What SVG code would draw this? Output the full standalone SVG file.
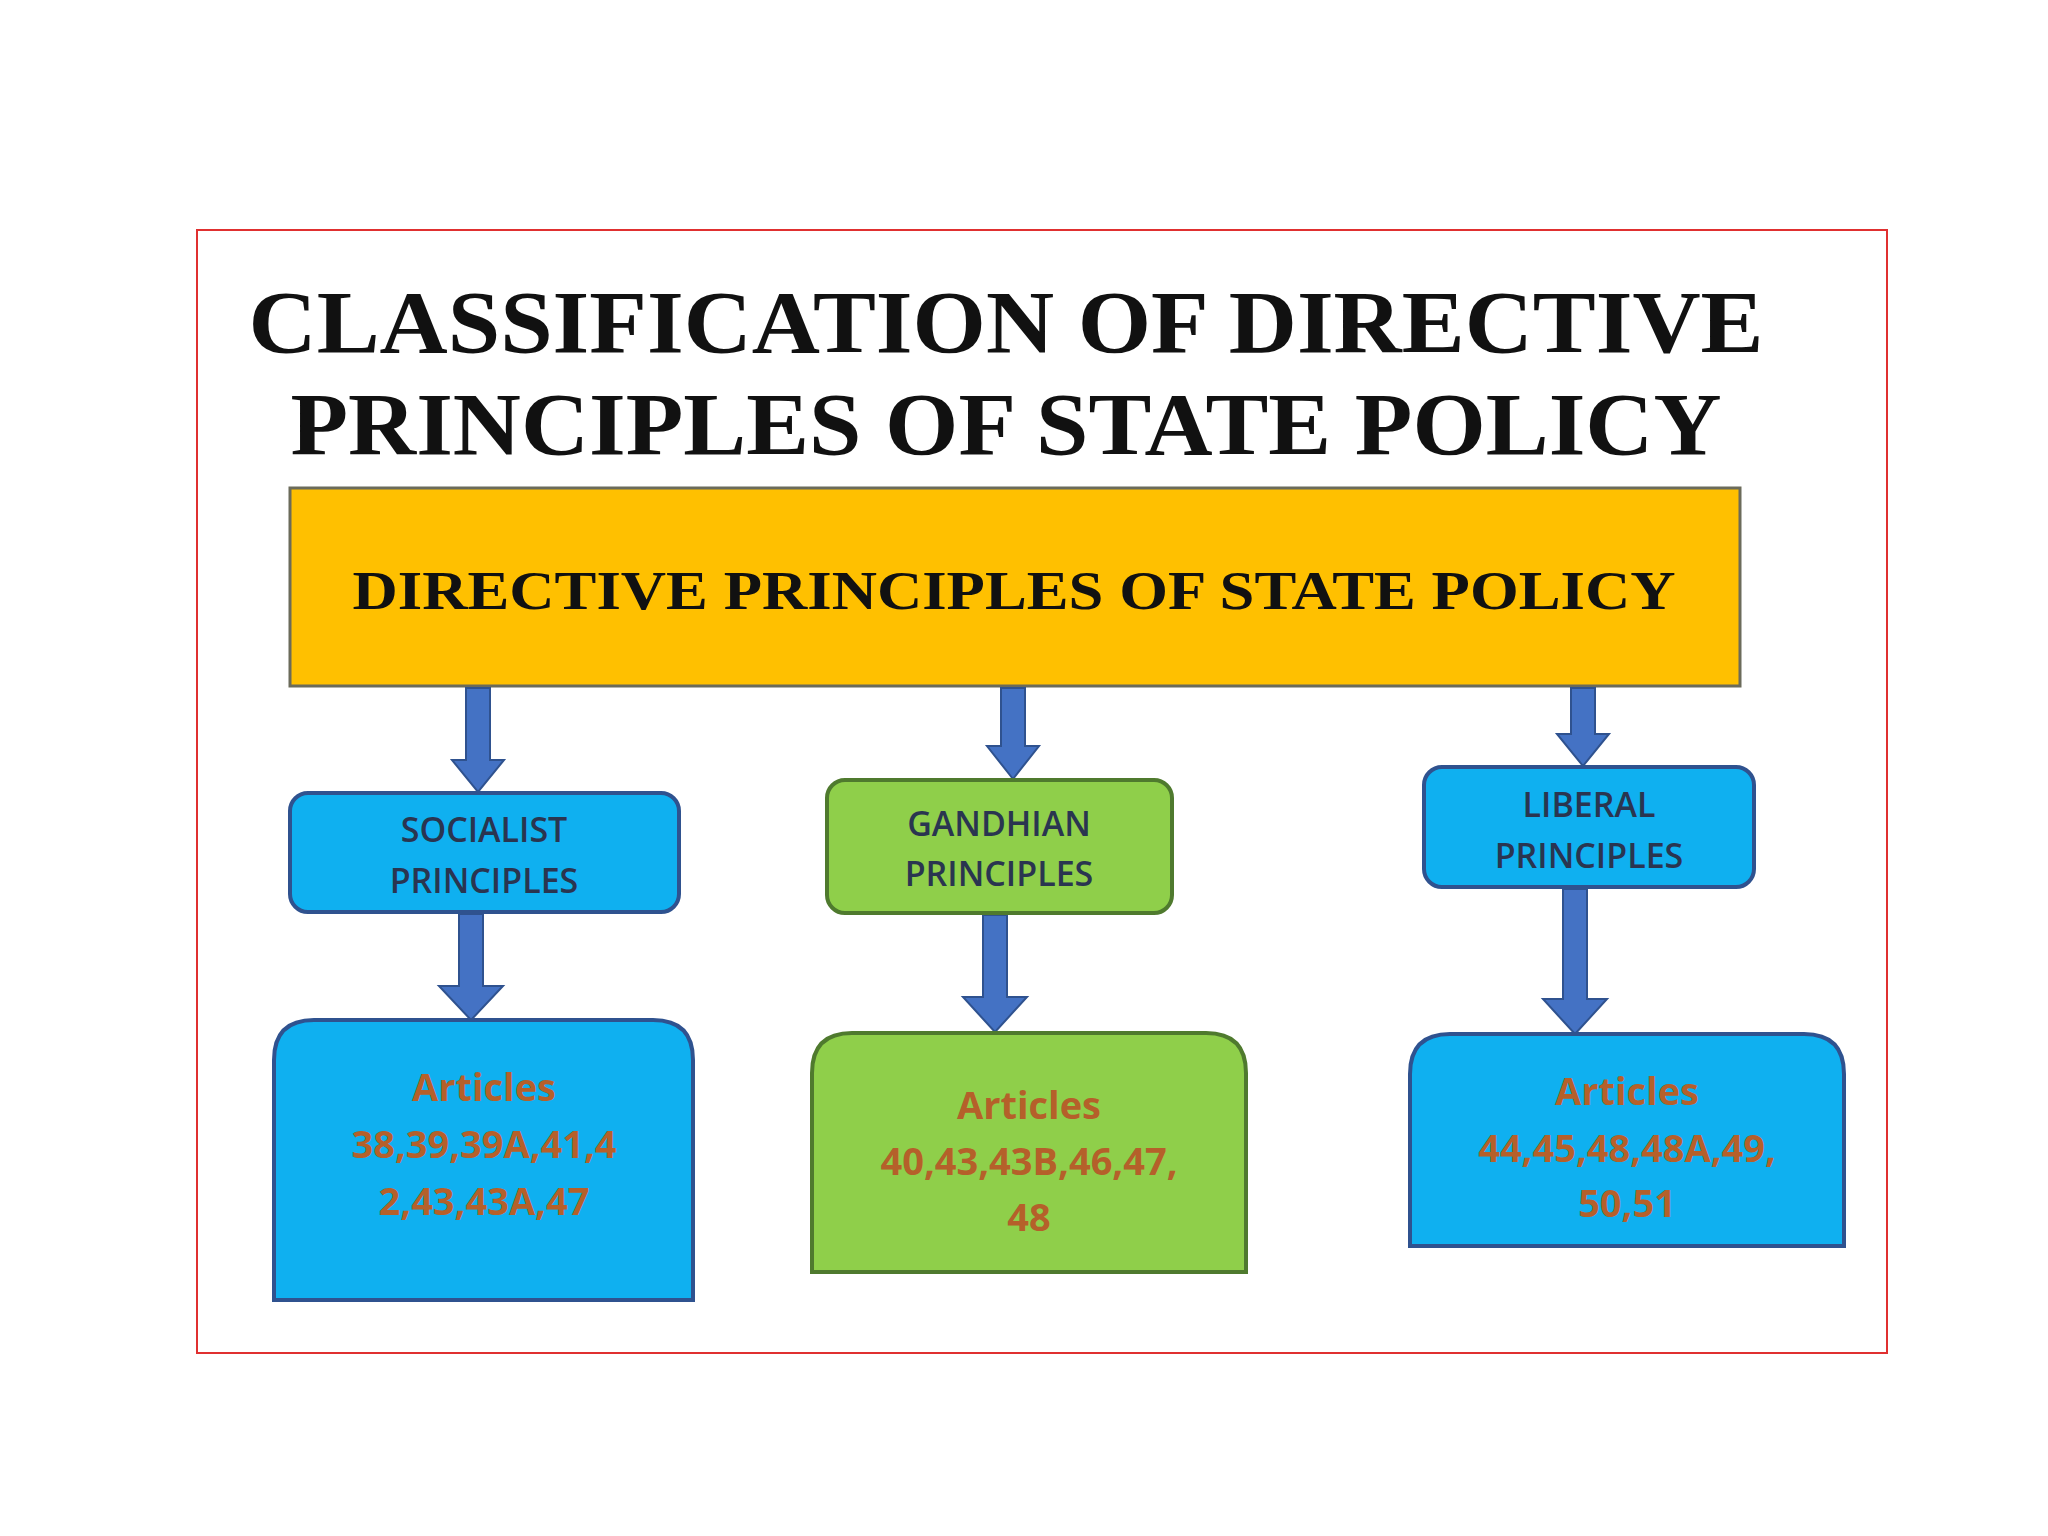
<svg xmlns="http://www.w3.org/2000/svg" width="2048" height="1536" viewBox="0 0 2048 1536">
<style>
.t{font-family:"Liberation Serif",serif;font-weight:bold;fill:#111;text-anchor:middle}
.lb{font-family:"Open Sans","Liberation Sans",sans-serif;font-weight:600;font-size:34px;fill:#2a3550;text-anchor:middle}
.ar{font-family:"Open Sans","Liberation Sans",sans-serif;font-weight:bold;font-size:38px;fill:#b5602a;text-anchor:middle}
.blue{fill:#0fb0f0;stroke:#2f528f;stroke-width:4}
.green{fill:#8fcf4a;stroke:#4f7a2e;stroke-width:4}
.arr{fill:#4472c4;stroke:#2f528f;stroke-width:2}
</style>
<rect width="2048" height="1536" fill="#fff"/>
<rect x="197" y="230" width="1690" height="1123" fill="#fff" stroke="#e03030" stroke-width="2"/>
<text class="t" x="1006" y="352" font-size="88" textLength="1515" lengthAdjust="spacingAndGlyphs">CLASSIFICATION OF DIRECTIVE</text>
<text class="t" x="1006" y="454" font-size="88" textLength="1431" lengthAdjust="spacingAndGlyphs">PRINCIPLES OF STATE POLICY</text>
<g id="root"><rect x="290" y="488" width="1450" height="198" fill="#ffc000" stroke="#6b6b5a" stroke-width="3"/>
<text class="t" x="1014" y="609" font-size="54" textLength="1323" lengthAdjust="spacingAndGlyphs">DIRECTIVE PRINCIPLES OF STATE POLICY</text></g>
<g id="connectors">
<path class="arr" d="M466 688h24v72h14l-26 32l-26-32h14z"/>
<path class="arr" d="M1001 688h24v58h14l-26 33l-26-33h14z"/>
<path class="arr" d="M1571 688h24v46h14l-26 32l-26-32h14z"/>
<path class="arr" d="M459 914h24v72h20l-32 34l-32-34h20z"/>
<path class="arr" d="M983 915h24v82h20l-32 35l-32-35h20z"/>
<path class="arr" d="M1563 889h24v110h20l-32 35l-32-35h20z"/>
</g>
<g id="socialist"><rect class="blue" x="290" y="793" width="389" height="119" rx="18"/>
<text class="lb" x="484" y="842">SOCIALIST</text><text class="lb" x="484" y="893">PRINCIPLES</text></g>
<g id="gandhian"><rect class="green" x="827" y="780" width="345" height="133" rx="18"/>
<text class="lb" x="999" y="836">GANDHIAN</text><text class="lb" x="999" y="886">PRINCIPLES</text></g>
<g id="liberal"><rect class="blue" x="1424" y="767" width="330" height="120" rx="18"/>
<text class="lb" x="1589" y="817">LIBERAL</text><text class="lb" x="1589" y="868">PRINCIPLES</text></g>
<g id="soc-art"><path class="blue" d="M274 1300V1060q0-40 40-40h339q40 0 40 40V1300z"/>
<text class="ar" x="484" y="1101">Articles</text><text class="ar" x="484" y="1158">38,39,39A,41,4</text><text class="ar" x="484" y="1215">2,43,43A,47</text></g>
<g id="gan-art"><path class="green" d="M812 1272V1073q0-40 40-40h354q40 0 40 40V1272z"/>
<text class="ar" x="1029" y="1119">Articles</text><text class="ar" x="1029" y="1175">40,43,43B,46,47,</text><text class="ar" x="1029" y="1231">48</text></g>
<g id="lib-art"><path class="blue" d="M1410 1246V1074q0-40 40-40h354q40 0 40 40V1246z"/>
<text class="ar" x="1627" y="1105">Articles</text><text class="ar" x="1627" y="1162">44,45,48,48A,49,</text><text class="ar" x="1627" y="1217">50,51</text></g>
</svg>
